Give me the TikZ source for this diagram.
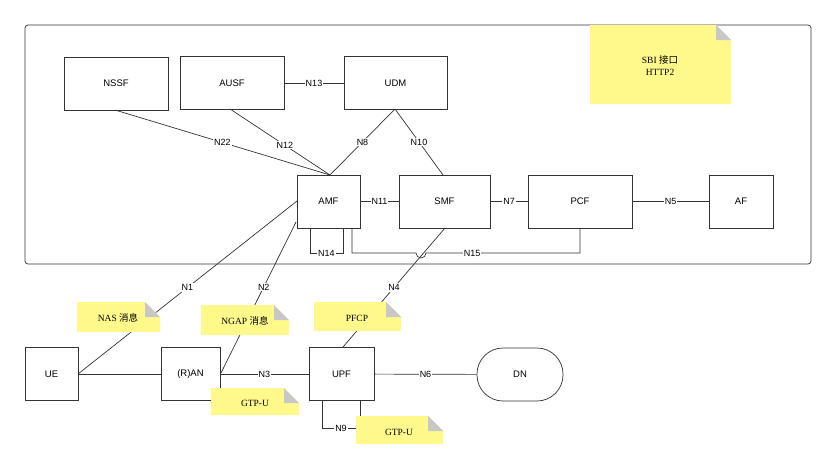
\documentclass[tikz,border=0pt]{standalone}
\usepackage{fontspec}
\setmainfont{Liberation Sans}
\newfontfamily\notefont{Liberation Serif}
\newfontfamily\cjk{Noto Sans CJK SC}
\begin{document}
\begin{tikzpicture}[x=1pt,y=-1pt,
  box/.style={draw=black!80,line width=0.7pt,minimum width=#1,minimum height=53pt,inner sep=0pt,font=\fontsize{9.5}{11}\selectfont},
  lbl/.style={fill=white,inner sep=1pt,font=\fontsize{9}{10}\selectfont},
  ln/.style={draw=black!80,line width=0.7pt},
  nt/.style={font=\notefont\fontsize{9.5}{12}\selectfont,align=center}]
\useasboundingbox (0,0) rectangle (836,471);
\draw[ln,rounded corners=3pt] (25,25) rectangle (811,264);
\newcommand\mynote[5]{% name, x1,y1,x2,y2
 \fill[yellow!45] (#2,#3) -- (#4-15,#3) -- (#4,#3+15) -- (#4,#5) -- (#2,#5) -- cycle;
 \fill[black!22] (#4-15,#3) -- (#4,#3+15) -- (#4-15,#3+15) -- cycle;}
\mynote{sbi}{590}{25}{731}{104}
\node[nt] (sbi) at (660,66) {SBI {\cjk 接口}\\HTTP2};
\node[box=104pt] (nssf) at (116,83.5) {NSSF};
\node[box=104pt] (ausf) at (232,83) {AUSF};
\node[box=103pt] (udm) at (395.5,83) {UDM};
\node[box=63pt] (amf) at (328.5,201.5) {AMF};
\node[box=91pt] (smf) at (444.5,201.5) {SMF};
\node[box=104pt] (pcf) at (580,201.5) {PCF};
\node[box=64pt] (af) at (741,201.5) {AF};
\node[box=53pt] (ue) at (51.5,374) {UE};
\node[box=59pt] (ran) at (190.5,374) {(R)AN};
\node[box=65pt] (upf) at (341.5,374) {UPF};
\node[box=86pt,rounded corners=26pt] (dn) at (520,374.5) {DN};
\coordinate (amfT) at (330,175);
\draw[ln] (115,110) -- node[lbl,pos=0.5]{N22} (amfT);
\draw[ln] (230,109) -- node[lbl,pos=0.55]{N12} (amfT);
\draw[ln] (395,109) -- node[lbl,pos=0.5]{N8} (amfT);
\draw[ln] (395,109) -- node[lbl,pos=0.5]{N10} (443,175);
\draw[ln] (ausf) -- node[lbl]{N13} (udm);
\draw[ln] (amf) -- node[lbl]{N11} (smf);
\draw[ln] (smf) -- node[lbl]{N7} (pcf);
\draw[ln] (pcf) -- node[lbl]{N5} (af);
\draw[ln] (310,228) |- node[lbl,pos=0.75]{N14} (343,253) -- (343,228);
\draw[ln] (352,228) -- (352,253) -- (416,253) arc (180:0:5) -- node[lbl,pos=0.3]{N15} (580,253) -- (580,228);
\coordinate (amfL) at (297,201);
\coordinate (ueR) at (78,374);
\coordinate (ranR) at (221,373);
\draw[ln] (ueR) -- node[lbl,pos=0.5]{N1} (amfL);
\draw[ln] (ranR) -- node[lbl,pos=0.57]{N2} (296,222);
\draw[ln] (ue) -- (ran);
\draw[ln] (ran) -- node[lbl]{N3} (upf);
\draw[ln] (445,228) -- node[lbl,pos=0.5]{N4} (343,347);
\draw[ln] (upf) -- node[lbl]{N6} (dn);
\draw[ln] (322,401) |- node[lbl,pos=0.75]{N9} (360,428) -- (360,401);
\mynote{n1}{77}{302}{160}{332}
\node[nt] (nas) at (118,318) {NAS {\cjk 消息}};
\mynote{n2}{201}{305}{289}{335}
\node[nt] (ngap) at (245,321) {NGAP {\cjk 消息}};
\mynote{n3}{314}{302}{401}{331}
\node[nt] (pfcp) at (357,318) {PFCP};
\mynote{n4}{211}{388}{299}{415}
\node[nt] (g1) at (255,403) {GTP-U};
\mynote{n5}{356}{416}{443}{444}
\node[nt] (g2) at (399,432) {GTP-U};
\end{tikzpicture}
\end{document}
